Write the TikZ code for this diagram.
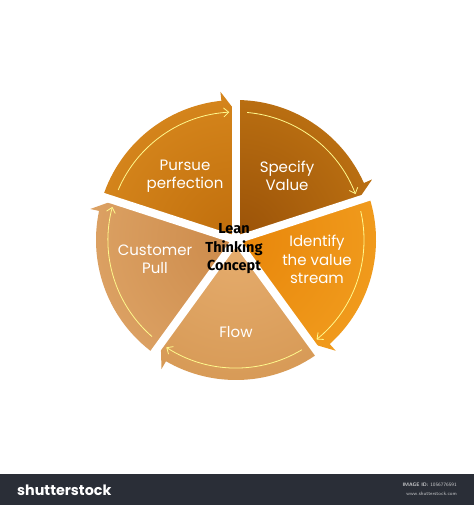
\documentclass[tikz,border=0pt]{standalone}
\usepackage{fontspec}
\newfontfamily\slicefont{Poppins}
\newfontfamily\hubfont{Fira Sans}
\usetikzlibrary{arrows.meta}

\definecolor{specifyin}{HTML}{9A5208}
\definecolor{specifyout}{HTML}{D88A1A}
\definecolor{identifyin}{HTML}{E8860A}
\definecolor{identifyout}{HTML}{F8AE2E}
\definecolor{flowin}{HTML}{E6AD6E}
\definecolor{flowout}{HTML}{C98840}
\definecolor{customerin}{HTML}{CC8A4A}
\definecolor{customerout}{HTML}{EAB67A}
\definecolor{pursuein}{HTML}{C06E0C}
\definecolor{pursueout}{HTML}{E89A2A}
\definecolor{barcol}{HTML}{2A2E37}

\begin{document}
\begin{tikzpicture}[x=1pt,y=1pt,
	slicetext/.style={text=white,align=center,font=\slicefont\fontsize{15}{18.5}\selectfont},
	hub/.style={text=black,align=center,font=\hubfont\bfseries\fontsize{14.5}{18.5}\selectfont},
	gapline/.style={white,line width=8pt},
	rim/.style={draw=white!55!yellow,line width=0.8pt,-{Straight Barb[length=5pt,width=9pt]}},
	barnote/.style={text=white!75!barcol,font=\sffamily\fontsize{5}{6}\selectfont,anchor=east,inner sep=0pt}]
	\useasboundingbox (0,0) rectangle (474,505);
	\fill[white] (0,0) rectangle (474,505);
	\begin{scope}[shift={(236,265)}]
	% specify value
	\begin{scope}
	\clip (0,0) -- (90:140) arc[start angle=90,end angle=24,radius=140] -- (24:149) -- (18:128) -- cycle;
	\shade[inner color=specifyin,outer color=specifyout] (0,0) circle (280);
	\end{scope}
	\draw[rim] (85:128) arc[start angle=85,end angle=21,radius=128];
	% identify the value stream
	\begin{scope}
	\clip (0,0) -- (18:140) arc[start angle=18,end angle=-48,radius=140] -- (-48:149) -- (-54:128) -- cycle;
	\shade[inner color=identifyin,outer color=identifyout] (0,0) circle (280);
	\end{scope}
	\draw[rim] (13:128) arc[start angle=13,end angle=-51,radius=128];
	% flow
	\begin{scope}
	\clip (0,0) -- (-54:140) arc[start angle=-54,end angle=-120,radius=140] -- (-120:149) -- (-126:128) -- cycle;
	\shade[inner color=flowin,outer color=flowout] (0,0) circle (280);
	\end{scope}
	\draw[rim] (-59:128) arc[start angle=-59,end angle=-123,radius=128];
	% customer pull
	\begin{scope}
	\clip (0,0) -- (234:140) arc[start angle=234,end angle=168,radius=140] -- (168:149) -- (162:128) -- cycle;
	\shade[inner color=customerin,outer color=customerout] (0,0) circle (280);
	\end{scope}
	\draw[rim] (229:128) arc[start angle=229,end angle=165,radius=128];
	% pursue perfection
	\begin{scope}
	\clip (0,0) -- (162:140) arc[start angle=162,end angle=96,radius=140] -- (96:149) -- (90:128) -- cycle;
	\shade[inner color=pursuein,outer color=pursueout] (0,0) circle (280);
	\end{scope}
	\draw[rim] (157:128) arc[start angle=157,end angle=93,radius=128];
	% gaps
	\draw[gapline] (0,0) -- (90:160);
	\draw[gapline] (0,0) -- (18:160);
	\draw[gapline] (0,0) -- (-54:160);
	\draw[gapline] (0,0) -- (-126:160);
	\draw[gapline] (0,0) -- (162:160);
	\end{scope}
	\node[slicetext] (pursue) at (185,329) {Pursue\\perfection};
	\node[slicetext] (specify) at (287,329) {Specify\\Value};
	\node[slicetext] (identify) at (317,245.5) {Identify\\the value\\stream};
	\node[slicetext] (flow) at (236,173) {Flow};
	\node[slicetext] (customer) at (155,245.5) {Customer\\Pull};
	\node[hub] (lean) at (234,256) {Lean\\Thinking\\Concept};
	% bottom bar
	\fill[barcol] (0,0) rectangle (474,31);
	\node[text=white,font=\slicefont\bfseries\fontsize{14.3}{16}\selectfont,anchor=west,inner sep=0pt] (brand) at (17,15) {shutterstock};
	\node[barnote] (imageid) at (457,20) {\textbf{IMAGE ID:} 1056776591};
	\node[barnote] (site) at (457,11) {www.shutterstock.com};
\end{tikzpicture}
\end{document}
